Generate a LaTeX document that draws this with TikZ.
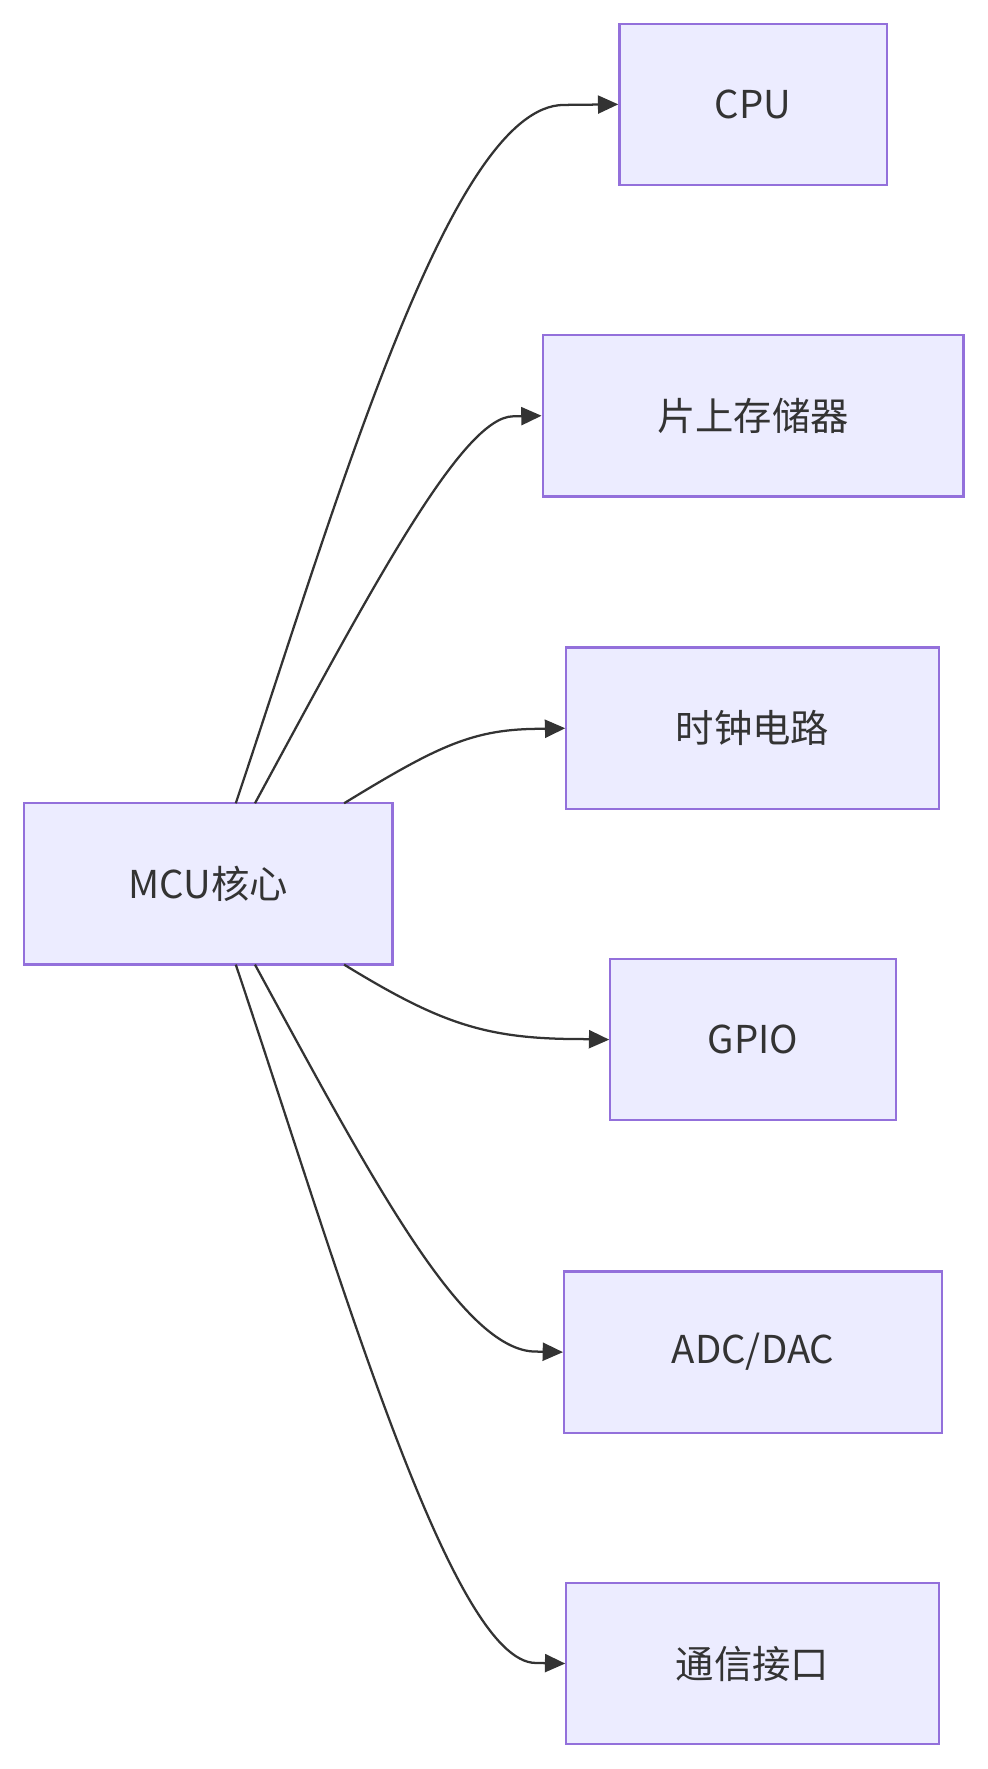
\documentclass[tikz,border=0pt]{standalone}
\usepackage{fontspec}
\setmainfont{Noto Sans CJK SC}
\usetikzlibrary{arrows.meta}
\definecolor{bfill}{HTML}{ECECFF}
\definecolor{bline}{HTML}{9370DB}
\definecolor{eline}{HTML}{333333}
\begin{document}
\begin{tikzpicture}[x=0.5pt,y=-0.5pt,
  box/.style={draw=bline,fill=bfill,line width=1pt,inner sep=0pt,font=\fontsize{17}{20}\selectfont,text=eline},
  edge/.style={draw=eline,line width=1pt,-{Triangle[length=9pt,width=8pt]}}]
\useasboundingbox (0,0) rectangle (875,1568);
\node[box,minimum width=163.5pt,minimum height=71.5pt] (m) at (184.5,783.5) {MCU核心};
\node[box,minimum width=118.5pt,minimum height=71.5pt] (cpu) at (667.5,92.5) {CPU};
\node[box,minimum width=186.5pt,minimum height=71.5pt] (mem) at (667.5,368.5) {片上存储器};
\node[box,minimum width=165pt,minimum height=71.5pt] (clk) at (667,645.5) {时钟电路};
\node[box,minimum width=126.5pt,minimum height=71.5pt] (gpio) at (667.5,921.5) {GPIO};
\node[box,minimum width=167.5pt,minimum height=71.5pt] (adc) at (667.5,1198.5) {ADC/DAC};
\node[box,minimum width=165pt,minimum height=71.5pt] (com) at (667,1474.5) {通信接口};
\coordinate (s1) at (209,712);
\coordinate (s2) at (226,712);
\coordinate (s3) at (305,712);
\coordinate (t1) at (209,855);
\coordinate (t2) at (226,855);
\coordinate (t3) at (305,855);
\draw[edge] (s1) .. controls (300,440) and (400,93) .. (500,93) -- (cpu.west);
\draw[edge] (s2) .. controls (330,520) and (410,369) .. (455,369) -- (mem.west);
\draw[edge] (s3) .. controls (390,660) and (420,646) .. (480,646) -- (clk.west);
\draw[edge] (t3) .. controls (390,907) and (430,921) .. (515,921) -- (gpio.west);
\draw[edge] (t2) .. controls (330,1046) and (410,1198) .. (475,1198) -- (adc.west);
\draw[edge] (t1) .. controls (300,1126) and (400,1474) .. (475,1474) -- (com.west);
\end{tikzpicture}
\end{document}
